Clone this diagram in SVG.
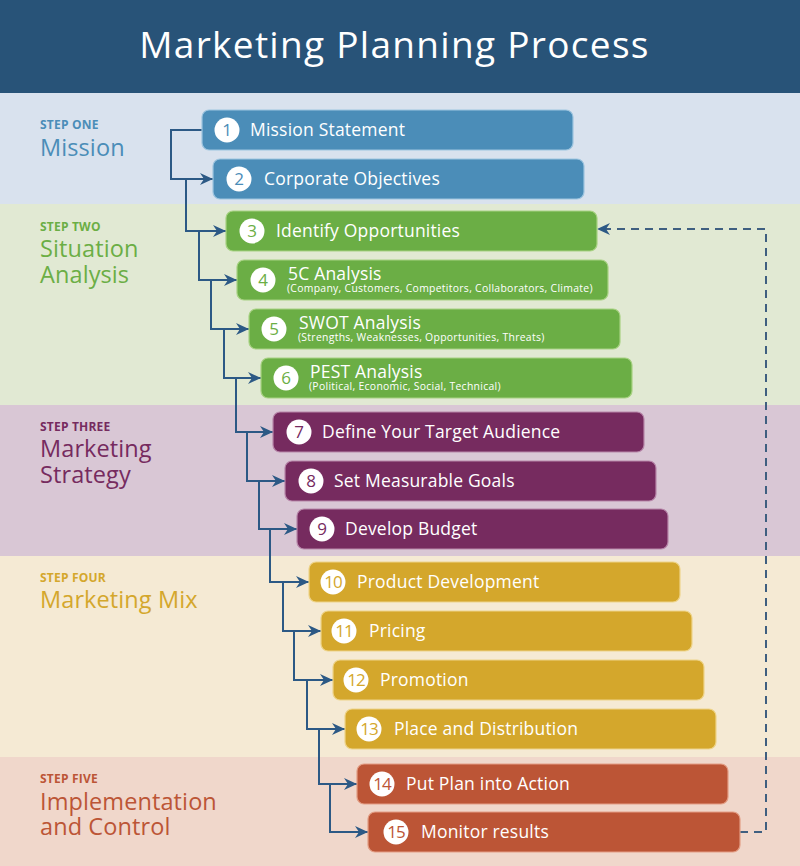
<svg xmlns="http://www.w3.org/2000/svg" width="800" height="866" viewBox="0 0 800 866">
<defs>
<marker id="arr" markerUnits="userSpaceOnUse" markerWidth="14" markerHeight="12" refX="13" refY="6" orient="auto">
<path d="M0,0 L13,6 L0,12 L4,6 Z" fill="#2C5985"/>
</marker>
<marker id="arrd" markerUnits="userSpaceOnUse" markerWidth="14" markerHeight="12" refX="13" refY="6" orient="auto">
<path d="M0,0 L13,6 L0,12 L4,6 Z" fill="#2C5985"/>
</marker>
</defs>
<style>
text{font-family:"Open Sans","Liberation Sans",sans-serif}
.title{font-size:37px;fill:#fff;letter-spacing:1.3px}
.sl{font-size:12px;font-weight:bold;letter-spacing:0.2px}
.sh{font-size:23.5px;letter-spacing:0.1px}
.bx{stroke-width:1.2}
.b1{fill:#4B8DB8;stroke:#9EC5DF}
.b2{fill:#6BAE45;stroke:#A8D283}
.b3{fill:#762B5F;stroke:#B887AA}
.b4{fill:#D4A72C;stroke:#EED48A}
.b5{fill:#BC5536;stroke:#E39E85}
.lbl{font-size:17.5px;fill:#fff;letter-spacing:0.2px}
.sub{font-size:10.4px;fill:#fff;letter-spacing:0.3px}
.num{font-size:17px;text-anchor:middle}
.c1{fill:#4B8DB8}.c2{fill:#6BAE45}.c3{fill:#762B5F}.c4{fill:#D4A72C}.c5{fill:#BC5536}
.conn{fill:none;stroke:#2C5985;stroke-width:2}
.dash{fill:none;stroke:#3F5F80;stroke-width:2;stroke-dasharray:8,6}
</style>
<g id="background">
<rect x="0" y="0" width="800" height="93" fill="#285378"/>
<rect x="0" y="93" width="800" height="111" fill="#D9E2EE"/>
<rect x="0" y="204" width="800" height="201" fill="#E1E9D3"/>
<rect x="0" y="405" width="800" height="151" fill="#D9C7D5"/>
<rect x="0" y="556" width="800" height="201" fill="#F5EAD4"/>
<rect x="0" y="757" width="800" height="109" fill="#F0D7CB"/>
</g>
<g id="title"><text class="title" x="394.5" y="58" text-anchor="middle">Marketing Planning Process</text></g>
<g id="step-labels">
<text class="sl c1" x="40" y="129">STEP ONE</text>
<text class="sh c1" x="40" y="156">Mission</text>
<text class="sl c2" x="40" y="231">STEP TWO</text>
<text class="sh c2" x="40" y="257">Situation</text>
<text class="sh c2" x="40" y="283">Analysis</text>
<text class="sl c3" x="40" y="431">STEP THREE</text>
<text class="sh c3" x="40" y="457">Marketing</text>
<text class="sh c3" x="40" y="483">Strategy</text>
<text class="sl c4" x="40" y="582">STEP FOUR</text>
<text class="sh c4" x="40" y="608">Marketing Mix</text>
<text class="sl c5" x="40" y="783">STEP FIVE</text>
<text class="sh c5" x="40" y="810">Implementation</text>
<text class="sh c5" x="40" y="835">and Control</text>
</g>
<g id="connectors">
<path class="conn" d="M202,130 H171 V179 H213" marker-end="url(#arr)"/>
<path class="conn" d="M186,179 V231 H226" marker-end="url(#arr)"/>
<path class="conn" d="M199,231 V280 H237" marker-end="url(#arr)"/>
<path class="conn" d="M211,280 V329 H249" marker-end="url(#arr)"/>
<path class="conn" d="M224,329 V378 H261" marker-end="url(#arr)"/>
<path class="conn" d="M236,378 V432 H273" marker-end="url(#arr)"/>
<path class="conn" d="M247,432 V481 H285" marker-end="url(#arr)"/>
<path class="conn" d="M259,481 V529 H297" marker-end="url(#arr)"/>
<path class="conn" d="M270,529 V582 H309" marker-end="url(#arr)"/>
<path class="conn" d="M283,582 V631 H321" marker-end="url(#arr)"/>
<path class="conn" d="M294,631 V680 H333" marker-end="url(#arr)"/>
<path class="conn" d="M307,680 V729 H345" marker-end="url(#arr)"/>
<path class="conn" d="M319,729 V784 H357" marker-end="url(#arr)"/>
<path class="conn" d="M330,784 V832 H368" marker-end="url(#arr)"/>
<path class="dash" d="M740,832 H766 V229 H597" marker-end="url(#arrd)"/>
</g>
<g id="node-1"><rect class="bx b1" x="202" y="110" width="371" height="40" rx="7"/><circle cx="227" cy="130" r="12.5" fill="#fff"/><text class="num c1" x="227" y="136">1</text><text class="lbl" x="250" y="136">Mission Statement</text></g>
<g id="node-2"><rect class="bx b1" x="213" y="159" width="371" height="40" rx="7"/><circle cx="239" cy="179" r="12.5" fill="#fff"/><text class="num c1" x="239" y="185">2</text><text class="lbl" x="264" y="185">Corporate Objectives</text></g>
<g id="node-3"><rect class="bx b2" x="226" y="211" width="371" height="40" rx="7"/><circle cx="252" cy="231" r="12.5" fill="#fff"/><text class="num c2" x="252" y="237">3</text><text class="lbl" x="276" y="237">Identify Opportunities</text></g>
<g id="node-4"><rect class="bx b2" x="237" y="260" width="371" height="40" rx="7"/><circle cx="263" cy="280" r="12.5" fill="#fff"/><text class="num c2" x="263" y="286">4</text><text class="lbl" x="288" y="280">5C Analysis</text><text class="sub" x="287" y="292">(Company, Customers, Competitors, Collaborators, Climate)</text></g>
<g id="node-5"><rect class="bx b2" x="249" y="309" width="371" height="40" rx="7"/><circle cx="274" cy="329" r="12.5" fill="#fff"/><text class="num c2" x="274" y="335">5</text><text class="lbl" x="299" y="329">SWOT Analysis</text><text class="sub" x="298" y="341">(Strengths, Weaknesses, Opportunities, Threats)</text></g>
<g id="node-6"><rect class="bx b2" x="261" y="358" width="371" height="40" rx="7"/><circle cx="286" cy="378" r="12.5" fill="#fff"/><text class="num c2" x="286" y="384">6</text><text class="lbl" x="310" y="378">PEST Analysis</text><text class="sub" x="309" y="390">(Political, Economic, Social, Technical)</text></g>
<g id="node-7"><rect class="bx b3" x="273" y="412" width="371" height="40" rx="7"/><circle cx="299" cy="432" r="12.5" fill="#fff"/><text class="num c3" x="299" y="438">7</text><text class="lbl" x="322" y="438">Define Your Target Audience</text></g>
<g id="node-8"><rect class="bx b3" x="285" y="461" width="371" height="40" rx="7"/><circle cx="311" cy="481" r="12.5" fill="#fff"/><text class="num c3" x="311" y="487">8</text><text class="lbl" x="334" y="487">Set Measurable Goals</text></g>
<g id="node-9"><rect class="bx b3" x="297" y="509" width="371" height="40" rx="7"/><circle cx="322" cy="529" r="12.5" fill="#fff"/><text class="num c3" x="322" y="535">9</text><text class="lbl" x="345" y="535">Develop Budget</text></g>
<g id="node-10"><rect class="bx b4" x="309" y="562" width="371" height="40" rx="7"/><circle cx="333" cy="582" r="12.5" fill="#fff"/><text class="num c4" x="333" y="588" letter-spacing="-1">10</text><text class="lbl" x="357" y="588">Product Development</text></g>
<g id="node-11"><rect class="bx b4" x="321" y="611" width="371" height="40" rx="7"/><circle cx="344" cy="631" r="12.5" fill="#fff"/><text class="num c4" x="344" y="637" letter-spacing="-1">11</text><text class="lbl" x="369" y="637">Pricing</text></g>
<g id="node-12"><rect class="bx b4" x="333" y="660" width="371" height="40" rx="7"/><circle cx="356" cy="680" r="12.5" fill="#fff"/><text class="num c4" x="356" y="686" letter-spacing="-1">12</text><text class="lbl" x="380" y="686">Promotion</text></g>
<g id="node-13"><rect class="bx b4" x="345" y="709" width="371" height="40" rx="7"/><circle cx="369" cy="729" r="12.5" fill="#fff"/><text class="num c4" x="369" y="735" letter-spacing="-1">13</text><text class="lbl" x="394" y="735">Place and Distribution</text></g>
<g id="node-14"><rect class="bx b5" x="357" y="764" width="371" height="40" rx="7"/><circle cx="382" cy="784" r="12.5" fill="#fff"/><text class="num c5" x="382" y="790" letter-spacing="-1">14</text><text class="lbl" x="406" y="790">Put Plan into Action</text></g>
<g id="node-15"><rect class="bx b5" x="368" y="812" width="372" height="40" rx="7"/><circle cx="396" cy="832" r="12.5" fill="#fff"/><text class="num c5" x="396" y="838" letter-spacing="-1">15</text><text class="lbl" x="421" y="838">Monitor results</text></g>
</svg>
